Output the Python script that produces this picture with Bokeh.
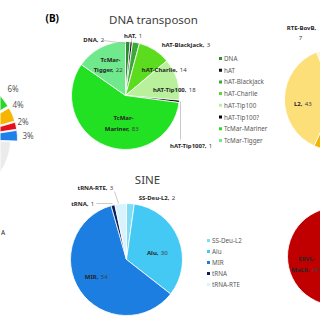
import math
from bokeh.plotting import figure
from bokeh.models import Range1d, ColumnDataSource
from bokeh.core.properties import value
from bokeh.embed import file_html
from bokeh.resources import INLINE

# ---- data -------------------------------------------------------------
# (A) share of repeat classes, percent
class_names = ["DNA transposon", "LINE", "LTR", "SINE", "Other"]
class_pct = [6, 4, 2, 3, 85]
class_colors = ["#2bd62b", "#f7b500", "#e6101c", "#1f80ea", "#ebebeb"]

# (B) DNA transposon families, counts
dna_names = ["DNA", "hAT", "hAT-Blackjack", "hAT-Charlie", "hAT-Tip100",
             "hAT-Tip100?", "TcMar-Mariner", "TcMar-Tigger"]
dna_counts = [2, 1, 3, 14, 18, 1, 83, 22]
dna_colors = ["#2e8b2e", "#111111", "#3aa83a", "#5cdc1e", "#b8f09c",
              "#000000", "#22e022", "#6fe98c"]

# LINE families, counts
line_names = ["CR1", "L1", "L2", "RTE-BovB"]
line_counts = [48, 18, 43, 7]
line_colors = ["#fbe9a8", "#f5b400", "#fcdf78", "#fdf4d4"]

# SINE families, counts
sine_names = ["SS-Deu-L2", "Alu", "MIR", "tRNA", "tRNA-RTE"]
sine_counts = [2, 30, 54, 1, 3]
sine_colors = ["#7fdcf5", "#43c9f4", "#1c7ee0", "#0b1f5e", "#d8f3fb"]

# LTR families, counts
ltr_names = ["ERV1", "ERVK", "ERVL", "ERVL-MaLR"]
ltr_counts = [12, 4, 10, 35]
ltr_colors = ["#e05050", "#a00000", "#d02020", "#c00000"]

FONT = value("Noto Sans")
W = H = 320
LBL = "6px"


def Y(y):
    # page coordinates run downward; the plot's y axis runs upward
    return H - y


p = figure(width=W, height=H, x_range=Range1d(0, W), y_range=Range1d(0, H),
           output_backend="svg", toolbar_location=None, min_border=0)
p.axis.visible = False
p.grid.visible = False
p.outline_line_color = None
p.background_fill_color = "white"
p.border_fill_color = "white"


def pie(cx, cy, r, counts, colors, start=0.0, explode=None):
    total = float(sum(counts))
    xs, ys, a0, a1 = [], [], [], []
    acc = start
    for i, c in enumerate(counts):
        t1 = acc
        t2 = acc + 360.0 * c / total
        acc = t2
        e = explode[i] if explode else 0.0
        mid = math.radians((t1 + t2) / 2)
        xs.append(cx + e * math.sin(mid))
        ys.append(Y(cy) + e * math.cos(mid))
        # clockwise-from-top angles -> Bokeh's anticlockwise-from-east
        a0.append(math.radians(90 - t2))
        a1.append(math.radians(90 - t1))
    src = ColumnDataSource(dict(x=xs, y=ys, s=a0, e=a1, c=colors))
    p.wedge(x="x", y="y", radius=r, start_angle="s", end_angle="e",
            fill_color="c", line_color="white", line_width=0.8, source=src)


def name_value(items, size=LBL):
    # bold name ending at the anchor, plain count right after it
    nx, ny, nt, vx, vy, vt = [], [], [], [], [], []
    for (ax, ay, name, cnt) in items:
        nx.append(ax); ny.append(Y(ay)); nt.append(name + ",")
        vx.append(ax + 2.2); vy.append(Y(ay)); vt.append(str(cnt))
    p.text(x=nx, y=ny, text=nt, text_font=FONT, text_font_size=size,
           text_font_style="bold", text_align="right", text_baseline="middle",
           text_color="#262626")
    p.text(x=vx, y=vy, text=vt, text_font=FONT, text_font_size=size,
           text_align="left", text_baseline="middle", text_color="#404040")


def plain(xs, ys, texts, size=LBL, align="center", bold=False, color="#262626"):
    p.text(x=xs, y=[Y(v) for v in ys], text=texts, text_font=FONT,
           text_font_size=size, text_font_style="bold" if bold else "normal",
           text_align=align, text_baseline="middle", text_color=color)


def legend(mx, y0, step, names, colors):
    ys = [Y(y0 + step * i) for i in range(len(names))]
    p.scatter(x=[mx] * len(names), y=ys, marker="square", size=3,
              fill_color=colors, line_color=None)
    p.text(x=[mx + 3.5] * len(names), y=ys, text=names, text_font=FONT,
           text_font_size="6.3px", text_align="left", text_baseline="middle",
           text_color="#595959")


def leaders(segs):
    p.segment(x0=[s[0] for s in segs], y0=[Y(s[1]) for s in segs],
              x1=[s[2] for s in segs], y1=[Y(s[3]) for s in segs],
              line_color="#a6a6a6", line_width=0.6)


# ---- (A) repeat classes ---------------------------------------------
pie(-47, 139, 57, class_pct, class_colors, start=38,
    explode=[7, 7, 7, 7, 0])
plain([7, 12, 17, 22], [88, 104, 121, 135],
      [f"{v}%" for v in class_pct[:4]], size="8px", align="left",
      color="#595959")
plain([0.5], [232], ["A"], size="6.5px", align="left")

# ---- (B) DNA transposon ---------------------------------------------
plain([45], [17], ["(B)"], size="10px", align="left", bold=True, color="#000000")
plain([153], [19], ["DNA transposon"], size="11.5px", color="#404040")
pie(125, 95, 54, dna_counts, dna_colors)
leaders([(103, 40, 126, 43), (131, 38, 131, 43), (180, 101, 180, 139)])
name_value([(98, 39, dna_names[0], dna_counts[0]),
            (136, 35, dna_names[1], dna_counts[1]),
            (204, 44, dna_names[2], dna_counts[2]),
            (177, 69, dna_names[3], dna_counts[3]),
            (186, 89, dna_names[4], dna_counts[4]),
            (206, 145, dna_names[5], dna_counts[5])])
# two-line labels for the TcMar families
plain([110, 123], [59, 117],
      [dna_names[7].split("-")[0] + "-", dna_names[6].split("-")[0] + "-"],
      bold=True)
name_value([(113, 69, dna_names[7].split("-")[1], dna_counts[7]),
            (129, 128, dna_names[6].split("-")[1], dna_counts[6])])
legend(220, 58, 11.7, dna_names, dna_colors)

# ---- LINE --------------------------------------------------------------
pie(335, 99, 51, line_counts, line_colors)
plain([301], [27], [line_names[3] + ","], bold=True)
plain([300], [37], [str(line_counts[3])], color="#404040")
name_value([(302, 103, line_names[2], line_counts[2])])

# ---- SINE --------------------------------------------------------------
plain([147], [179], ["SINE"], size="11.5px", color="#404040")
pie(126, 259, 56, sine_counts, sine_colors)
leaders([(114, 191, 118, 203), (96, 203, 112, 203)])
name_value([(169, 197, sine_names[0], sine_counts[0]),
            (158, 252, sine_names[1], sine_counts[1]),
            (98, 276, sine_names[2], sine_counts[2]),
            (88, 203, sine_names[3], sine_counts[3]),
            (107, 187, sine_names[4], sine_counts[4])])
legend(208, 240, 11, sine_names, sine_colors)

# ---- LTR ---------------------------------------------------------------
pie(336, 256, 49, ltr_counts, ltr_colors)
plain([306], [258], [ltr_names[3].split("-")[0] + "-"], bold=True)
name_value([(309, 269, ltr_names[3].split("-")[1], ltr_counts[3])])

open("out.html", "w").write(file_html(p, INLINE))
